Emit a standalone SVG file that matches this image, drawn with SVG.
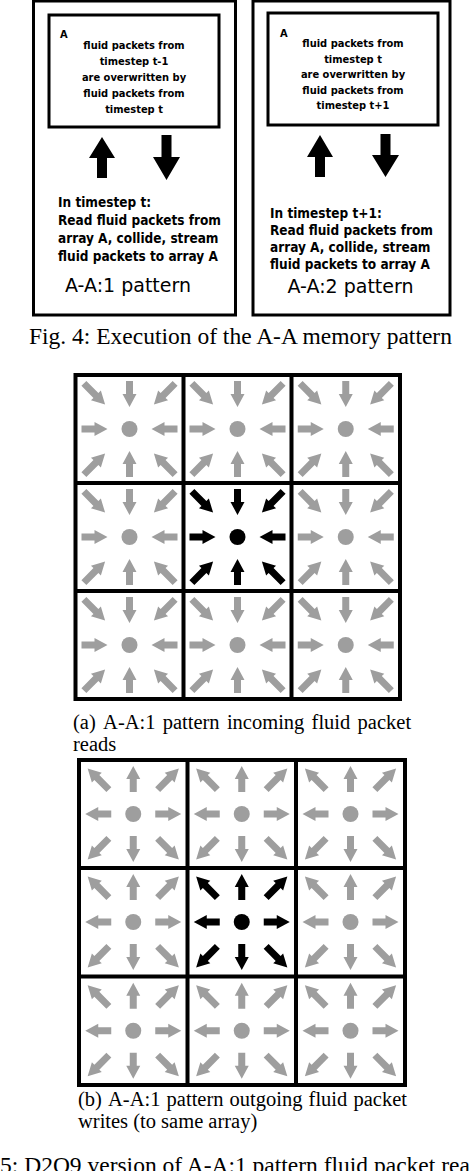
<svg xmlns="http://www.w3.org/2000/svg" width="474" height="1171" viewBox="0 0 474 1171">
<style>
.box{fill:none;stroke:#000;stroke-width:3}
.grid{fill:none;stroke:#000;stroke-width:4}
.t1{font-family:'DejaVu Sans Condensed','DejaVu Sans',sans-serif;font-weight:bold;font-size:11px;fill:#000}
.t2{font-family:'DejaVu Sans Condensed','DejaVu Sans',sans-serif;font-weight:bold;font-size:13.5px;fill:#000}
.pat{font-family:'DejaVu Sans',sans-serif;font-size:19px;fill:#000}
.cap{font-family:'Liberation Serif','Times New Roman',serif;font-size:20.5px;fill:#000}
.fig{font-family:'Liberation Serif','Times New Roman',serif;font-size:23.5px;fill:#000}
.g{fill:#9e9e9e}
.k{fill:#000}
</style>
<defs>
<path id="ax" d="M-13,-3.5 L0,-3.5 L0,-7 L13,0 L0,7 L0,3.5 L-13,3.5 Z"/>
<path id="dg" d="M-15,-3.5 L2,-3.5 L2,-7 L15,0 L2,7 L2,3.5 L-15,3.5 Z"/>
<g id="inCell">
<circle cx="0" cy="0" r="8"/>
<use href="#ax" transform="translate(35,0) rotate(180)"/>
<use href="#dg" transform="translate(35,35) rotate(225)"/>
<use href="#ax" transform="translate(0,35) rotate(270)"/>
<use href="#dg" transform="translate(-35,35) rotate(315)"/>
<use href="#ax" transform="translate(-35,0) rotate(0)"/>
<use href="#dg" transform="translate(-35,-35) rotate(45)"/>
<use href="#ax" transform="translate(0,-35) rotate(90)"/>
<use href="#dg" transform="translate(35,-35) rotate(135)"/>
</g>
<g id="outCell">
<circle cx="0" cy="0" r="8"/>
<use href="#ax" transform="translate(35,0) rotate(0)"/>
<use href="#dg" transform="translate(35,35) rotate(45)"/>
<use href="#ax" transform="translate(0,35) rotate(90)"/>
<use href="#dg" transform="translate(-35,35) rotate(135)"/>
<use href="#ax" transform="translate(-35,0) rotate(180)"/>
<use href="#dg" transform="translate(-35,-35) rotate(225)"/>
<use href="#ax" transform="translate(0,-35) rotate(270)"/>
<use href="#dg" transform="translate(35,-35) rotate(315)"/>
</g>
</defs>
<rect width="474" height="1171" fill="#fff"/>

<g id="box1">
<rect class="box" x="33.5" y="1" width="202" height="314"/>
<rect class="box" x="49" y="15" width="170" height="112"/>
<text class="t1" x="60" y="38">A</text>
<g class="t1" text-anchor="middle">
<text x="134" y="49">fluid packets from</text>
<text x="134" y="65">timestep t-1</text>
<text x="134" y="81">are overwritten by</text>
<text x="134" y="97">fluid packets from</text>
<text x="134" y="113">timestep t</text>
</g>
<g class="t2">
<text x="58" y="207">In timestep t:</text>
<text x="58" y="225">Read fluid packets from</text>
<text x="58" y="243">array A, collide, stream</text>
<text x="58" y="261">fluid packets to array A</text>
</g>
<text class="pat" x="128" y="292" text-anchor="middle">A-A:1 pattern</text>
</g>

<g id="box2">
<rect class="box" x="253" y="1" width="197" height="314"/>
<rect class="box" x="268" y="13" width="170" height="112"/>
<text class="t1" x="280" y="37">A</text>
<g class="t1" text-anchor="middle">
<text x="353" y="47">fluid packets from</text>
<text x="353" y="62.5">timestep t</text>
<text x="353" y="78">are overwritten by</text>
<text x="353" y="93.5">fluid packets from</text>
<text x="353" y="109">timestep t+1</text>
</g>
<g class="t2">
<text x="270" y="218">In timestep t+1:</text>
<text x="270" y="235">Read fluid packets from</text>
<text x="270" y="252">array A, collide, stream</text>
<text x="270" y="269">fluid packets to array A</text>
</g>
<text class="pat" x="350.5" y="293" text-anchor="middle">A-A:2 pattern</text>
</g>

<g id="connectors">
<path d="M102,137 L115,158 L107,158 L107,178 L97,178 L97,158 L89,158 Z"/>
<path d="M161.5,135 L171.5,135 L171.5,157 L180,157 L166.5,180 L153,157 L161.5,157 Z"/>
<path d="M320,135 L333,157 L325,157 L325,177 L315,177 L315,157 L307,157 Z"/>
<path d="M380.5,134 L390.5,134 L390.5,155 L399,155 L385.5,177 L372,155 L380.5,155 Z"/>
</g>

<g id="caption-fig4">
<text class="fig" x="29" y="344">Fig. 4: Execution of the A-A memory pattern</text>
</g>

<g id="grid-a">
<use href="#inCell" class="g" transform="translate(129.5,429)"/>
<use href="#inCell" class="g" transform="translate(237.5,429)"/>
<use href="#inCell" class="g" transform="translate(345.75,429)"/>
<use href="#inCell" class="g" transform="translate(129.5,537)"/>
<use href="#inCell" class="k" transform="translate(237.5,537)"/>
<use href="#inCell" class="g" transform="translate(345.75,537)"/>
<use href="#inCell" class="g" transform="translate(129.5,645)"/>
<use href="#inCell" class="g" transform="translate(237.5,645)"/>
<use href="#inCell" class="g" transform="translate(345.75,645)"/>
<rect class="grid" x="75.5" y="375" width="324.5" height="324"/>
<path class="grid" d="M183.5,375 V699 M291.5,375 V699 M75.5,483 H400 M75.5,591 H400"/>
</g>

<g id="caption-a" class="cap">
<text x="73" y="729">(a)</text>
<text x="103.1" y="729">A-A:1</text>
<text x="162.7" y="729">pattern</text>
<text x="226.9" y="729">incoming</text>
<text x="311.6" y="729">fluid</text>
<text x="357.6" y="729">packet</text>
<text x="73" y="751">reads</text>
</g>

<g id="grid-b">
<use href="#outCell" class="g" transform="translate(133.25,814)"/>
<use href="#outCell" class="g" transform="translate(241.75,814)"/>
<use href="#outCell" class="g" transform="translate(350.5,814)"/>
<use href="#outCell" class="g" transform="translate(133.25,922)"/>
<use href="#outCell" class="k" transform="translate(241.75,922)"/>
<use href="#outCell" class="g" transform="translate(350.5,922)"/>
<use href="#outCell" class="g" transform="translate(133.25,1030.75)"/>
<use href="#outCell" class="g" transform="translate(241.75,1030.75)"/>
<use href="#outCell" class="g" transform="translate(350.5,1030.75)"/>
<rect class="grid" x="79" y="760" width="326" height="325"/>
<path class="grid" d="M187.5,760 V1085 M296,760 V1085 M79,868 H405 M79,976.5 H405"/>
</g>

<g id="caption-b" class="cap">
<text x="78" y="1106">(b)</text>
<text x="108" y="1106">A-A:1</text>
<text x="166.6" y="1106">pattern</text>
<text x="229.6" y="1106">outgoing</text>
<text x="308.6" y="1106">fluid</text>
<text x="353.5" y="1106">packet</text>
<text x="78" y="1128">writes (to same array)</text>
</g>

<g id="caption-fig5">
<text class="fig" x="0" y="1173" font-size="23.6">5: D2Q9 version of A-A:1 pattern fluid packet rea</text>
</g>
</svg>
